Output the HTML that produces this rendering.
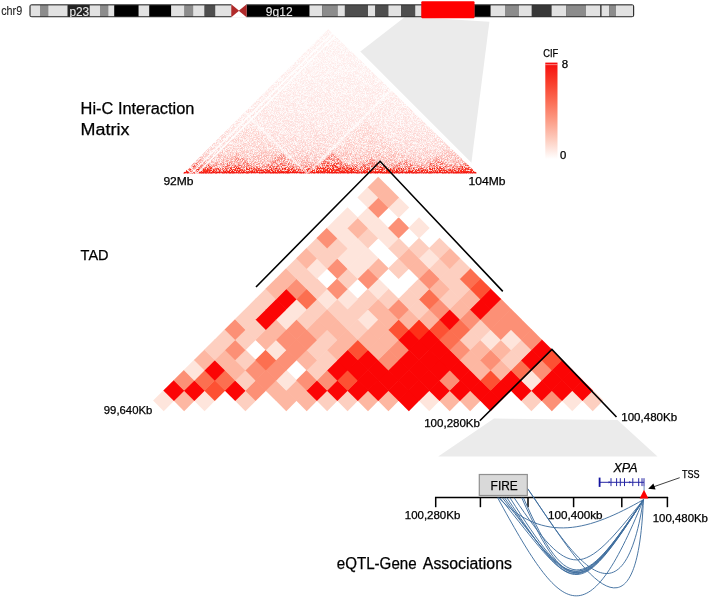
<!DOCTYPE html>
<html><head><meta charset="utf-8"><title>Hi-C FIRE figure</title>
<style>
html,body{margin:0;padding:0;background:#fff;}
svg{display:block;font-family:"Liberation Sans",sans-serif;}
</style></head>
<body>
<svg width="709" height="598" viewBox="0 0 709 598">
<defs>
<linearGradient id="hg" x1="0" y1="28.8" x2="0" y2="173.5" gradientUnits="userSpaceOnUse">
<stop offset="0" stop-color="#f42414" stop-opacity="0.04"/>
<stop offset="0.308" stop-color="#f42414" stop-opacity="0.052"/>
<stop offset="0.654" stop-color="#f42414" stop-opacity="0.082"/>
<stop offset="0.827" stop-color="#f42414" stop-opacity="0.12"/>
<stop offset="0.917" stop-color="#f42414" stop-opacity="0.20"/>
<stop offset="0.958" stop-color="#f42414" stop-opacity="0.36"/>
<stop offset="0.982" stop-color="#f42414" stop-opacity="0.7"/>
<stop offset="1" stop-color="#f42414" stop-opacity="1"/>
</linearGradient>
<linearGradient id="cb" x1="0" y1="0" x2="0" y2="1">
<stop offset="0" stop-color="#f60c0c"/>
<stop offset="0.2" stop-color="#f93c2a"/>
<stop offset="0.4" stop-color="#fb6c54"/>
<stop offset="0.6" stop-color="#fc9c86"/>
<stop offset="0.8" stop-color="#fdcdbf"/>
<stop offset="1" stop-color="#ffffff"/>
</linearGradient>
<filter id="stip" x="0" y="0" width="1" height="1" color-interpolation-filters="sRGB">
<feTurbulence type="fractalNoise" baseFrequency="1.4" numOctaves="1" seed="11" result="n"/>
<feColorMatrix in="n" type="matrix" values="0 0 0 0 1  0 0 0 0 1  0 0 0 0 1  0 0 0 3.2 -1.1" result="na"/>
<feComposite in="SourceGraphic" in2="na" operator="arithmetic" k1="1.7" k2="0.15" k3="0" k4="0"/>
</filter>
<clipPath id="iclip"><rect x="29" y="4.3" width="606" height="13"/></clipPath>
<clipPath id="hclip"><polygon points="182.8,173.5 328.2,28.8 477.2,173.5"/></clipPath>
</defs>
<rect width="709" height="598" fill="#ffffff"/>
<!-- grey zoom wedges -->
<polygon points="405.5,16.5 489.4,21.7 470,173.5 203,173.5" fill="#ebebeb"/>
<polygon points="494,418.6 617.5,420 657.5,456.6 438.2,456.6" fill="#ebebeb"/>
<!-- ideogram -->
<rect x="29.4" y="4.300000000000001" width="604.8000000000001" height="13.0" rx="2.5" fill="#303030"/>
<rect x="30.6" y="5.4" width="9.40" height="10.80" fill="#e2e2e2"/>
<rect x="40" y="5.4" width="8.20" height="10.80" fill="#8c8c8c"/>
<rect x="48.2" y="5.4" width="19.50" height="10.80" fill="#e2e2e2"/>
<rect x="67.7" y="5.4" width="22.00" height="10.80" fill="#222222"/>
<rect x="89.7" y="5.4" width="10.30" height="10.80" fill="#e2e2e2"/>
<rect x="100" y="5.4" width="8.20" height="10.80" fill="#8c8c8c"/>
<rect x="108.2" y="5.4" width="6.20" height="10.80" fill="#e2e2e2"/>
<rect x="114.4" y="5.4" width="24.20" height="10.80" fill="#000000"/>
<rect x="138.6" y="5.4" width="10.80" height="10.80" fill="#e2e2e2"/>
<rect x="149.4" y="5.4" width="21.70" height="10.80" fill="#000000"/>
<rect x="171.1" y="5.4" width="13.50" height="10.80" fill="#e2e2e2"/>
<rect x="184.6" y="5.4" width="8.50" height="10.80" fill="#8c8c8c"/>
<rect x="193.1" y="5.4" width="11.50" height="10.80" fill="#e2e2e2"/>
<rect x="204.6" y="5.4" width="10.60" height="10.80" fill="#4e4e4e"/>
<rect x="215.2" y="5.4" width="16.10" height="10.80" fill="#e2e2e2"/>
<rect x="246.5" y="5.4" width="63.00" height="10.80" fill="#000000"/>
<rect x="309.5" y="5.4" width="12.80" height="10.80" fill="#e2e2e2"/>
<rect x="322.3" y="5.4" width="15.30" height="10.80" fill="#8c8c8c"/>
<rect x="337.6" y="5.4" width="7.30" height="10.80" fill="#e2e2e2"/>
<rect x="344.9" y="5.4" width="23.10" height="10.80" fill="#4e4e4e"/>
<rect x="368" y="5.4" width="7.30" height="10.80" fill="#e2e2e2"/>
<rect x="375.3" y="5.4" width="13.10" height="10.80" fill="#4e4e4e"/>
<rect x="388.4" y="5.4" width="12.60" height="10.80" fill="#e2e2e2"/>
<rect x="401" y="5.4" width="14.20" height="10.80" fill="#4e4e4e"/>
<rect x="415.2" y="5.4" width="6.30" height="10.80" fill="#e2e2e2"/>
<rect x="421.5" y="5.4" width="53.00" height="10.80" fill="#e2e2e2"/>
<rect x="474.5" y="5.4" width="16.10" height="10.80" fill="#000000"/>
<rect x="490.6" y="5.4" width="14.40" height="10.80" fill="#e2e2e2"/>
<rect x="505" y="5.4" width="14.00" height="10.80" fill="#8c8c8c"/>
<rect x="519" y="5.4" width="12.80" height="10.80" fill="#e2e2e2"/>
<rect x="531.8" y="5.4" width="19.80" height="10.80" fill="#383838"/>
<rect x="551.6" y="5.4" width="14.80" height="10.80" fill="#e2e2e2"/>
<rect x="566.4" y="5.4" width="19.60" height="10.80" fill="#8c8c8c"/>
<rect x="586" y="5.4" width="14.00" height="10.80" fill="#e2e2e2"/>
<rect x="600" y="5.4" width="1.60" height="10.80" fill="#4e4e4e"/>
<rect x="601.6" y="5.4" width="7.80" height="10.80" fill="#e2e2e2"/>
<rect x="609.4" y="5.4" width="6.60" height="10.80" fill="#8c8c8c"/>
<rect x="616" y="5.4" width="17.00" height="10.80" fill="#e2e2e2"/>
<rect x="231.3" y="3.8000000000000003" width="15.2" height="14.0" fill="#ffffff"/>
<polygon points="231.3,4.300000000000001 239.1,10.8 231.3,17.3" fill="#b02a2a"/>
<polygon points="246.6,4.300000000000001 238.7,10.8 246.6,17.3" fill="#b02a2a"/>
<rect x="421.3" y="1.3" width="53.2" height="17" rx="1" fill="#ff0000"/>
<!-- Hi-C matrix -->
<polygon points="327,27.5 336.3,27.5 482.5,173.7 182,173.7" fill="#ffffff"/>
<g clip-path="url(#hclip)"><g filter="url(#stip)">
<polygon points="182.8,173.5 328.2,28.8 477.2,173.5" fill="url(#hg)"/>
<polygon points="186.0,173.5 201.0,158.8 216.0,173.5" fill="#f42414" fill-opacity="0.2"/>
<polygon points="216.0,173.5 237.5,152.4 259.0,173.5" fill="#f42414" fill-opacity="0.12"/>
<polygon points="259.0,173.5 281.0,151.9 303.0,173.5" fill="#f42414" fill-opacity="0.14"/>
<polygon points="311.0,173.5 332.5,152.4 354.0,173.5" fill="#f42414" fill-opacity="0.25"/>
<polygon points="354.0,173.5 371.5,156.3 389.0,173.5" fill="#f42414" fill-opacity="0.15"/>
<polygon points="389.0,173.5 404.5,158.3 420.0,173.5" fill="#f42414" fill-opacity="0.14"/>
<polygon points="420.0,173.5 437.5,156.3 455.0,173.5" fill="#f42414" fill-opacity="0.16"/>
<polygon points="455.0,173.5 466.0,162.7 477.0,173.5" fill="#f42414" fill-opacity="0.2"/>
<polygon points="198.0,173.5 250.5,121.9 303.0,173.5" fill="#f42414" fill-opacity="0.02"/>
<polygon points="311.0,173.5 365.5,119.9 420.0,173.5" fill="#f42414" fill-opacity="0.025"/>
<polygon points="420.0,173.5 448.5,145.5 477.0,173.5" fill="#f42414" fill-opacity="0.02"/>
<polygon points="184.0,173.5 191.2,166.4 198.5,173.5" fill="#f42414" fill-opacity="0.2986859182817167"/>
<polygon points="199.7,173.5 208.9,164.5 218.0,173.5" fill="#f42414" fill-opacity="0.29838377195838894"/>
<polygon points="219.4,173.5 223.1,169.9 226.8,173.5" fill="#f42414" fill-opacity="0.25449962470049686"/>
<polygon points="228.2,173.5 235.6,166.2 243.0,173.5" fill="#f42414" fill-opacity="0.32414407868009965"/>
<polygon points="243.4,173.5 249.8,167.3 256.1,173.5" fill="#f42414" fill-opacity="0.21945165321917284"/>
<polygon points="257.0,173.5 264.0,166.7 270.9,173.5" fill="#f42414" fill-opacity="0.18209827033422435"/>
<polygon points="271.5,173.5 276.7,168.4 281.8,173.5" fill="#f42414" fill-opacity="0.3266152594893683"/>
<polygon points="283.1,173.5 287.5,169.1 292.0,173.5" fill="#f42414" fill-opacity="0.30754351862899276"/>
<polygon points="292.4,173.5 299.6,166.4 306.8,173.5" fill="#f42414" fill-opacity="0.20027187720804315"/>
<polygon points="307.1,173.5 315.9,164.9 324.6,173.5" fill="#f42414" fill-opacity="0.21351302119921886"/>
<polygon points="325.2,173.5 334.6,164.3 343.9,173.5" fill="#f42414" fill-opacity="0.3195852424698883"/>
<polygon points="344.6,173.5 353.9,164.4 363.1,173.5" fill="#f42414" fill-opacity="0.2662757550193297"/>
<polygon points="364.2,173.5 369.0,168.9 373.7,173.5" fill="#f42414" fill-opacity="0.33055616017407985"/>
<polygon points="374.8,173.5 384.1,164.4 393.4,173.5" fill="#f42414" fill-opacity="0.32299866841223657"/>
<polygon points="394.1,173.5 399.8,167.9 405.4,173.5" fill="#f42414" fill-opacity="0.2065529691407593"/>
<polygon points="405.9,173.5 409.8,169.7 413.7,173.5" fill="#f42414" fill-opacity="0.228217456123114"/>
<polygon points="414.7,173.5 418.2,170.0 421.7,173.5" fill="#f42414" fill-opacity="0.2884694799276306"/>
<polygon points="422.5,173.5 427.8,168.2 433.2,173.5" fill="#f42414" fill-opacity="0.3109628919435313"/>
<polygon points="434.0,173.5 439.4,168.2 444.8,173.5" fill="#f42414" fill-opacity="0.2569949417978982"/>
<polygon points="446.0,173.5 449.8,169.7 453.7,173.5" fill="#f42414" fill-opacity="0.3360159301030777"/>
<polygon points="454.0,173.5 462.0,165.6 470.0,173.5" fill="#f42414" fill-opacity="0.31518094230210075"/>
<polygon points="470.3,173.5 473.7,170.2 477.0,173.5" fill="#f42414" fill-opacity="0.2385895161346977"/>
</g>
<rect x="182.8" y="171.9" width="294.4" height="1.6" fill="#f01010" fill-opacity="0.75"/>
<line x1="191.3" y1="173.5" x2="332.5" y2="33.0" stroke="#fff" stroke-width="1.5" stroke-opacity="0.9"/>
<line x1="191.3" y1="173.5" x2="187.0" y2="169.3" stroke="#fff" stroke-width="1.5" stroke-opacity="0.9"/>
<line x1="196.8" y1="173.5" x2="335.3" y2="35.7" stroke="#fff" stroke-width="1.5" stroke-opacity="0.9"/>
<line x1="196.8" y1="173.5" x2="189.7" y2="166.6" stroke="#fff" stroke-width="1.5" stroke-opacity="0.9"/>
<line x1="307.3" y1="173.5" x2="391.2" y2="90.0" stroke="#fff" stroke-width="2.0" stroke-opacity="0.6"/>
<line x1="307.3" y1="173.5" x2="244.3" y2="112.3" stroke="#fff" stroke-width="2.0" stroke-opacity="0.6"/>
</g>
<!-- colour bar -->
<rect x="545.3" y="62.6" width="12.2" height="96.4" fill="url(#cb)"/>
<rect x="545.3" y="64.4" width="12.2" height="0.7" fill="#ffffff" fill-opacity="0.7"/>
<!-- TAD heat map -->
<g shape-rendering="geometricPrecision">
<polygon points="153.10,400.60 163.71,390.04 174.33,400.60 163.71,411.16" fill="#fee5dc"/>
<polygon points="173.53,400.60 184.14,390.04 194.76,400.60 184.14,411.16" fill="#fdb7a2"/>
<polygon points="193.96,400.60 204.57,390.04 215.18,400.60 204.57,411.16" fill="#fee5dc"/>
<polygon points="234.81,400.60 245.43,390.04 256.04,400.60 245.43,411.16" fill="#fdcfc0"/>
<polygon points="275.67,400.60 286.28,390.04 296.90,400.60 286.28,411.16" fill="#fdb7a2"/>
<polygon points="296.10,400.60 306.71,390.04 317.32,400.60 306.71,411.16" fill="#fdb7a2"/>
<polygon points="316.52,400.60 327.14,390.04 337.75,400.60 327.14,411.16" fill="#fdcfc0"/>
<polygon points="336.95,400.60 347.57,390.04 358.18,400.60 347.57,411.16" fill="#fdcfc0"/>
<polygon points="357.38,400.60 367.99,390.04 378.61,400.60 367.99,411.16" fill="#fdb7a2"/>
<polygon points="377.81,400.60 388.42,390.04 399.04,400.60 388.42,411.16" fill="#fdb7a2"/>
<polygon points="398.24,400.60 408.85,390.04 419.46,400.60 408.85,411.16" fill="#fb0505"/>
<polygon points="418.66,400.60 429.28,390.04 439.89,400.60 429.28,411.16" fill="#fee5dc"/>
<polygon points="439.09,400.60 449.71,390.04 460.32,400.60 449.71,411.16" fill="#fdb7a2"/>
<polygon points="459.52,400.60 470.13,390.04 480.75,400.60 470.13,411.16" fill="#fdb7a2"/>
<polygon points="479.95,400.60 490.56,390.04 501.18,400.60 490.56,411.16" fill="#fb0505"/>
<polygon points="520.80,400.60 531.42,390.04 542.03,400.60 531.42,411.16" fill="#fdcfc0"/>
<polygon points="541.23,400.60 551.85,390.04 562.46,400.60 551.85,411.16" fill="#fc9076"/>
<polygon points="561.66,400.60 572.27,390.04 582.89,400.60 572.27,411.16" fill="#fee5dc"/>
<polygon points="582.09,400.60 592.70,390.04 603.32,400.60 592.70,411.16" fill="#fdcfc0"/>
<polygon points="163.31,390.44 173.93,379.88 184.54,390.44 173.93,401.00" fill="#fb0505"/>
<polygon points="183.74,390.44 194.36,379.88 204.97,390.44 194.36,401.00" fill="#fb0505"/>
<polygon points="204.17,390.44 214.78,379.88 225.40,390.44 214.78,401.00" fill="#fd5133"/>
<polygon points="224.60,390.44 235.21,379.88 245.83,390.44 235.21,401.00" fill="#fb0505"/>
<polygon points="245.03,390.44 255.64,379.88 266.25,390.44 255.64,401.00" fill="#fc9076"/>
<polygon points="265.45,390.44 276.07,379.88 286.68,390.44 276.07,401.00" fill="#fdb7a2"/>
<polygon points="285.88,390.44 296.50,379.88 307.11,390.44 296.50,401.00" fill="#fdb7a2"/>
<polygon points="306.31,390.44 316.92,379.88 327.54,390.44 316.92,401.00" fill="#fb0505"/>
<polygon points="326.74,390.44 337.35,379.88 347.97,390.44 337.35,401.00" fill="#fb0505"/>
<polygon points="347.17,390.44 357.78,379.88 368.39,390.44 357.78,401.00" fill="#fb0505"/>
<polygon points="367.59,390.44 378.21,379.88 388.82,390.44 378.21,401.00" fill="#fb0505"/>
<polygon points="388.02,390.44 398.64,379.88 409.25,390.44 398.64,401.00" fill="#fb0505"/>
<polygon points="408.45,390.44 419.06,379.88 429.68,390.44 419.06,401.00" fill="#fb0505"/>
<polygon points="428.88,390.44 439.49,379.88 450.11,390.44 439.49,401.00" fill="#fb0505"/>
<polygon points="449.31,390.44 459.92,379.88 470.53,390.44 459.92,401.00" fill="#fb0505"/>
<polygon points="469.73,390.44 480.35,379.88 490.96,390.44 480.35,401.00" fill="#fb0505"/>
<polygon points="490.16,390.44 500.78,379.88 511.39,390.44 500.78,401.00" fill="#fb0505"/>
<polygon points="510.59,390.44 521.20,379.88 531.82,390.44 521.20,401.00" fill="#fb0505"/>
<polygon points="531.02,390.44 541.63,379.88 552.25,390.44 541.63,401.00" fill="#fb0505"/>
<polygon points="551.45,390.44 562.06,379.88 572.67,390.44 562.06,401.00" fill="#fb0505"/>
<polygon points="571.87,390.44 582.49,379.88 593.10,390.44 582.49,401.00" fill="#fb0505"/>
<polygon points="173.53,380.28 184.14,369.72 194.76,380.28 184.14,390.84" fill="#fc9076"/>
<polygon points="193.96,380.28 204.57,369.72 215.18,380.28 204.57,390.84" fill="#fc6f50"/>
<polygon points="214.38,380.28 225.00,369.72 235.61,380.28 225.00,390.84" fill="#fc6f50"/>
<polygon points="234.81,380.28 245.43,369.72 256.04,380.28 245.43,390.84" fill="#fdcfc0"/>
<polygon points="255.24,380.28 265.85,369.72 276.47,380.28 265.85,390.84" fill="#fc9076"/>
<polygon points="275.67,380.28 286.28,369.72 296.90,380.28 286.28,390.84" fill="#fee5dc"/>
<polygon points="296.10,380.28 306.71,369.72 317.32,380.28 306.71,390.84" fill="#fc9076"/>
<polygon points="316.52,380.28 327.14,369.72 337.75,380.28 327.14,390.84" fill="#fc9076"/>
<polygon points="336.95,380.28 347.57,369.72 358.18,380.28 347.57,390.84" fill="#fd5133"/>
<polygon points="357.38,380.28 367.99,369.72 378.61,380.28 367.99,390.84" fill="#fb0505"/>
<polygon points="377.81,380.28 388.42,369.72 399.04,380.28 388.42,390.84" fill="#fb0505"/>
<polygon points="398.24,380.28 408.85,369.72 419.46,380.28 408.85,390.84" fill="#fb0505"/>
<polygon points="418.66,380.28 429.28,369.72 439.89,380.28 429.28,390.84" fill="#fb0505"/>
<polygon points="439.09,380.28 449.71,369.72 460.32,380.28 449.71,390.84" fill="#fc9076"/>
<polygon points="459.52,380.28 470.13,369.72 480.75,380.28 470.13,390.84" fill="#fb0505"/>
<polygon points="479.95,380.28 490.56,369.72 501.18,380.28 490.56,390.84" fill="#fd5133"/>
<polygon points="500.38,380.28 510.99,369.72 521.60,380.28 510.99,390.84" fill="#fb0505"/>
<polygon points="520.80,380.28 531.42,369.72 542.03,380.28 531.42,390.84" fill="#fee5dc"/>
<polygon points="541.23,380.28 551.85,369.72 562.46,380.28 551.85,390.84" fill="#fb0505"/>
<polygon points="561.66,380.28 572.27,369.72 582.89,380.28 572.27,390.84" fill="#fb0505"/>
<polygon points="183.74,370.12 194.36,359.56 204.97,370.12 194.36,380.68" fill="#fee5dc"/>
<polygon points="204.17,370.12 214.78,359.56 225.40,370.12 214.78,380.68" fill="#fb0505"/>
<polygon points="224.60,370.12 235.21,359.56 245.83,370.12 235.21,380.68" fill="#fdb7a2"/>
<polygon points="245.03,370.12 255.64,359.56 266.25,370.12 255.64,380.68" fill="#fc9076"/>
<polygon points="265.45,370.12 276.07,359.56 286.68,370.12 276.07,380.68" fill="#fc9076"/>
<polygon points="306.31,370.12 316.92,359.56 327.54,370.12 316.92,380.68" fill="#fdcfc0"/>
<polygon points="326.74,370.12 337.35,359.56 347.97,370.12 337.35,380.68" fill="#fb0505"/>
<polygon points="347.17,370.12 357.78,359.56 368.39,370.12 357.78,380.68" fill="#fb0505"/>
<polygon points="367.59,370.12 378.21,359.56 388.82,370.12 378.21,380.68" fill="#fb0505"/>
<polygon points="388.02,370.12 398.64,359.56 409.25,370.12 398.64,380.68" fill="#fb0505"/>
<polygon points="408.45,370.12 419.06,359.56 429.68,370.12 419.06,380.68" fill="#fb0505"/>
<polygon points="428.88,370.12 439.49,359.56 450.11,370.12 439.49,380.68" fill="#fb0505"/>
<polygon points="449.31,370.12 459.92,359.56 470.53,370.12 459.92,380.68" fill="#fb0505"/>
<polygon points="469.73,370.12 480.35,359.56 490.96,370.12 480.35,380.68" fill="#fdb7a2"/>
<polygon points="490.16,370.12 500.78,359.56 511.39,370.12 500.78,380.68" fill="#fdb7a2"/>
<polygon points="510.59,370.12 521.20,359.56 531.82,370.12 521.20,380.68" fill="#fc6f50"/>
<polygon points="531.02,370.12 541.63,359.56 552.25,370.12 541.63,380.68" fill="#fc9076"/>
<polygon points="551.45,370.12 562.06,359.56 572.67,370.12 562.06,380.68" fill="#fb0505"/>
<polygon points="193.96,359.96 204.57,349.40 215.18,359.96 204.57,370.52" fill="#fdb7a2"/>
<polygon points="214.38,359.96 225.00,349.40 235.61,359.96 225.00,370.52" fill="#fdb7a2"/>
<polygon points="234.81,359.96 245.43,349.40 256.04,359.96 245.43,370.52" fill="#fdcfc0"/>
<polygon points="255.24,359.96 265.85,349.40 276.47,359.96 265.85,370.52" fill="#fc6f50"/>
<polygon points="275.67,359.96 286.28,349.40 296.90,359.96 286.28,370.52" fill="#fc9076"/>
<polygon points="296.10,359.96 306.71,349.40 317.32,359.96 306.71,370.52" fill="#fdb7a2"/>
<polygon points="316.52,359.96 327.14,349.40 337.75,359.96 327.14,370.52" fill="#fdcfc0"/>
<polygon points="336.95,359.96 347.57,349.40 358.18,359.96 347.57,370.52" fill="#fb0505"/>
<polygon points="357.38,359.96 367.99,349.40 378.61,359.96 367.99,370.52" fill="#fb0505"/>
<polygon points="377.81,359.96 388.42,349.40 399.04,359.96 388.42,370.52" fill="#fc9076"/>
<polygon points="398.24,359.96 408.85,349.40 419.46,359.96 408.85,370.52" fill="#fb0505"/>
<polygon points="418.66,359.96 429.28,349.40 439.89,359.96 429.28,370.52" fill="#fb0505"/>
<polygon points="439.09,359.96 449.71,349.40 460.32,359.96 449.71,370.52" fill="#fb0505"/>
<polygon points="459.52,359.96 470.13,349.40 480.75,359.96 470.13,370.52" fill="#fdb7a2"/>
<polygon points="479.95,359.96 490.56,349.40 501.18,359.96 490.56,370.52" fill="#fc9076"/>
<polygon points="500.38,359.96 510.99,349.40 521.60,359.96 510.99,370.52" fill="#fdcfc0"/>
<polygon points="520.80,359.96 531.42,349.40 542.03,359.96 531.42,370.52" fill="#fb0505"/>
<polygon points="541.23,359.96 551.85,349.40 562.46,359.96 551.85,370.52" fill="#fd5133"/>
<polygon points="204.17,349.80 214.78,339.24 225.40,349.80 214.78,360.36" fill="#fdcfc0"/>
<polygon points="224.60,349.80 235.21,339.24 245.83,349.80 235.21,360.36" fill="#fc9076"/>
<polygon points="265.45,349.80 276.07,339.24 286.68,349.80 276.07,360.36" fill="#fee5dc"/>
<polygon points="285.88,349.80 296.50,339.24 307.11,349.80 296.50,360.36" fill="#fc9076"/>
<polygon points="306.31,349.80 316.92,339.24 327.54,349.80 316.92,360.36" fill="#fdcfc0"/>
<polygon points="326.74,349.80 337.35,339.24 347.97,349.80 337.35,360.36" fill="#fdb7a2"/>
<polygon points="347.17,349.80 357.78,339.24 368.39,349.80 357.78,360.36" fill="#fd5133"/>
<polygon points="367.59,349.80 378.21,339.24 388.82,349.80 378.21,360.36" fill="#fdb7a2"/>
<polygon points="388.02,349.80 398.64,339.24 409.25,349.80 398.64,360.36" fill="#fc9076"/>
<polygon points="408.45,349.80 419.06,339.24 429.68,349.80 419.06,360.36" fill="#fb0505"/>
<polygon points="428.88,349.80 439.49,339.24 450.11,349.80 439.49,360.36" fill="#fb0505"/>
<polygon points="449.31,349.80 459.92,339.24 470.53,349.80 459.92,360.36" fill="#fc9076"/>
<polygon points="469.73,349.80 480.35,339.24 490.96,349.80 480.35,360.36" fill="#fdb7a2"/>
<polygon points="490.16,349.80 500.78,339.24 511.39,349.80 500.78,360.36" fill="#fdb7a2"/>
<polygon points="510.59,349.80 521.20,339.24 531.82,349.80 521.20,360.36" fill="#fdcfc0"/>
<polygon points="531.02,349.80 541.63,339.24 552.25,349.80 541.63,360.36" fill="#fb0505"/>
<polygon points="214.38,339.64 225.00,329.08 235.61,339.64 225.00,350.20" fill="#fdcfc0"/>
<polygon points="234.81,339.64 245.43,329.08 256.04,339.64 245.43,350.20" fill="#fdcfc0"/>
<polygon points="255.24,339.64 265.85,329.08 276.47,339.64 265.85,350.20" fill="#fdb7a2"/>
<polygon points="275.67,339.64 286.28,329.08 296.90,339.64 286.28,350.20" fill="#fc9076"/>
<polygon points="296.10,339.64 306.71,329.08 317.32,339.64 306.71,350.20" fill="#fc9076"/>
<polygon points="316.52,339.64 327.14,329.08 337.75,339.64 327.14,350.20" fill="#fdcfc0"/>
<polygon points="336.95,339.64 347.57,329.08 358.18,339.64 347.57,350.20" fill="#fdb7a2"/>
<polygon points="357.38,339.64 367.99,329.08 378.61,339.64 367.99,350.20" fill="#fdb7a2"/>
<polygon points="377.81,339.64 388.42,329.08 399.04,339.64 388.42,350.20" fill="#fdb7a2"/>
<polygon points="398.24,339.64 408.85,329.08 419.46,339.64 408.85,350.20" fill="#fb0505"/>
<polygon points="418.66,339.64 429.28,329.08 439.89,339.64 429.28,350.20" fill="#fb0505"/>
<polygon points="439.09,339.64 449.71,329.08 460.32,339.64 449.71,350.20" fill="#fc6f50"/>
<polygon points="459.52,339.64 470.13,329.08 480.75,339.64 470.13,350.20" fill="#fdcfc0"/>
<polygon points="479.95,339.64 490.56,329.08 501.18,339.64 490.56,350.20" fill="#fee5dc"/>
<polygon points="500.38,339.64 510.99,329.08 521.60,339.64 510.99,350.20" fill="#fee5dc"/>
<polygon points="520.80,339.64 531.42,329.08 542.03,339.64 531.42,350.20" fill="#fc9076"/>
<polygon points="224.60,329.48 235.21,318.92 245.83,329.48 235.21,340.04" fill="#fc9076"/>
<polygon points="245.03,329.48 255.64,318.92 266.25,329.48 255.64,340.04" fill="#fdcfc0"/>
<polygon points="265.45,329.48 276.07,318.92 286.68,329.48 276.07,340.04" fill="#fdb7a2"/>
<polygon points="285.88,329.48 296.50,318.92 307.11,329.48 296.50,340.04" fill="#fc9076"/>
<polygon points="306.31,329.48 316.92,318.92 327.54,329.48 316.92,340.04" fill="#fdb7a2"/>
<polygon points="326.74,329.48 337.35,318.92 347.97,329.48 337.35,340.04" fill="#fdb7a2"/>
<polygon points="347.17,329.48 357.78,318.92 368.39,329.48 357.78,340.04" fill="#fdcfc0"/>
<polygon points="367.59,329.48 378.21,318.92 388.82,329.48 378.21,340.04" fill="#fdb7a2"/>
<polygon points="388.02,329.48 398.64,318.92 409.25,329.48 398.64,340.04" fill="#fd5133"/>
<polygon points="408.45,329.48 419.06,318.92 429.68,329.48 419.06,340.04" fill="#fe3018"/>
<polygon points="428.88,329.48 439.49,318.92 450.11,329.48 439.49,340.04" fill="#fd5133"/>
<polygon points="449.31,329.48 459.92,318.92 470.53,329.48 459.92,340.04" fill="#fc6f50"/>
<polygon points="469.73,329.48 480.35,318.92 490.96,329.48 480.35,340.04" fill="#fdcfc0"/>
<polygon points="490.16,329.48 500.78,318.92 511.39,329.48 500.78,340.04" fill="#fc9076"/>
<polygon points="510.59,329.48 521.20,318.92 531.82,329.48 521.20,340.04" fill="#fc9076"/>
<polygon points="234.81,319.32 245.43,308.76 256.04,319.32 245.43,329.88" fill="#fdcfc0"/>
<polygon points="255.24,319.32 265.85,308.76 276.47,319.32 265.85,329.88" fill="#fb0505"/>
<polygon points="275.67,319.32 286.28,308.76 296.90,319.32 286.28,329.88" fill="#fee5dc"/>
<polygon points="296.10,319.32 306.71,308.76 317.32,319.32 306.71,329.88" fill="#fdcfc0"/>
<polygon points="316.52,319.32 327.14,308.76 337.75,319.32 327.14,329.88" fill="#fdb7a2"/>
<polygon points="336.95,319.32 347.57,308.76 358.18,319.32 347.57,329.88" fill="#fdcfc0"/>
<polygon points="357.38,319.32 367.99,308.76 378.61,319.32 367.99,329.88" fill="#fee5dc"/>
<polygon points="377.81,319.32 388.42,308.76 399.04,319.32 388.42,329.88" fill="#fdb7a2"/>
<polygon points="398.24,319.32 408.85,308.76 419.46,319.32 408.85,329.88" fill="#fdb7a2"/>
<polygon points="418.66,319.32 429.28,308.76 439.89,319.32 429.28,329.88" fill="#fdb7a2"/>
<polygon points="439.09,319.32 449.71,308.76 460.32,319.32 449.71,329.88" fill="#fb0505"/>
<polygon points="459.52,319.32 470.13,308.76 480.75,319.32 470.13,329.88" fill="#fc9076"/>
<polygon points="479.95,319.32 490.56,308.76 501.18,319.32 490.56,329.88" fill="#fc9076"/>
<polygon points="500.38,319.32 510.99,308.76 521.60,319.32 510.99,329.88" fill="#fc9076"/>
<polygon points="245.03,309.16 255.64,298.60 266.25,309.16 255.64,319.72" fill="#fdcfc0"/>
<polygon points="265.45,309.16 276.07,298.60 286.68,309.16 276.07,319.72" fill="#fb0505"/>
<polygon points="285.88,309.16 296.50,298.60 307.11,309.16 296.50,319.72" fill="#fee5dc"/>
<polygon points="306.31,309.16 316.92,298.60 327.54,309.16 316.92,319.72" fill="#fdcfc0"/>
<polygon points="326.74,309.16 337.35,298.60 347.97,309.16 337.35,319.72" fill="#fdcfc0"/>
<polygon points="347.17,309.16 357.78,298.60 368.39,309.16 357.78,319.72" fill="#fdcfc0"/>
<polygon points="367.59,309.16 378.21,298.60 388.82,309.16 378.21,319.72" fill="#fdb7a2"/>
<polygon points="388.02,309.16 398.64,298.60 409.25,309.16 398.64,319.72" fill="#fc9076"/>
<polygon points="408.45,309.16 419.06,298.60 429.68,309.16 419.06,319.72" fill="#fdcfc0"/>
<polygon points="428.88,309.16 439.49,298.60 450.11,309.16 439.49,319.72" fill="#fc9076"/>
<polygon points="449.31,309.16 459.92,298.60 470.53,309.16 459.92,319.72" fill="#fdb7a2"/>
<polygon points="469.73,309.16 480.35,298.60 490.96,309.16 480.35,319.72" fill="#fb0505"/>
<polygon points="490.16,309.16 500.78,298.60 511.39,309.16 500.78,319.72" fill="#fc9076"/>
<polygon points="255.24,299.00 265.85,288.44 276.47,299.00 265.85,309.56" fill="#fdcfc0"/>
<polygon points="275.67,299.00 286.28,288.44 296.90,299.00 286.28,309.56" fill="#fb0505"/>
<polygon points="296.10,299.00 306.71,288.44 317.32,299.00 306.71,309.56" fill="#fc6f50"/>
<polygon points="316.52,299.00 327.14,288.44 337.75,299.00 327.14,309.56" fill="#fee5dc"/>
<polygon points="336.95,299.00 347.57,288.44 358.18,299.00 347.57,309.56" fill="#fee5dc"/>
<polygon points="357.38,299.00 367.99,288.44 378.61,299.00 367.99,309.56" fill="#fdcfc0"/>
<polygon points="377.81,299.00 388.42,288.44 399.04,299.00 388.42,309.56" fill="#fdcfc0"/>
<polygon points="398.24,299.00 408.85,288.44 419.46,299.00 408.85,309.56" fill="#fdcfc0"/>
<polygon points="418.66,299.00 429.28,288.44 439.89,299.00 429.28,309.56" fill="#fc6f50"/>
<polygon points="439.09,299.00 449.71,288.44 460.32,299.00 449.71,309.56" fill="#fdcfc0"/>
<polygon points="459.52,299.00 470.13,288.44 480.75,299.00 470.13,309.56" fill="#fdb7a2"/>
<polygon points="479.95,299.00 490.56,288.44 501.18,299.00 490.56,309.56" fill="#fb0505"/>
<polygon points="265.45,288.84 276.07,278.28 286.68,288.84 276.07,299.40" fill="#fdb7a2"/>
<polygon points="285.88,288.84 296.50,278.28 307.11,288.84 296.50,299.40" fill="#fc9076"/>
<polygon points="306.31,288.84 316.92,278.28 327.54,288.84 316.92,299.40" fill="#fdcfc0"/>
<polygon points="326.74,288.84 337.35,278.28 347.97,288.84 337.35,299.40" fill="#fc9076"/>
<polygon points="367.59,288.84 378.21,278.28 388.82,288.84 378.21,299.40" fill="#fee5dc"/>
<polygon points="408.45,288.84 419.06,278.28 429.68,288.84 419.06,299.40" fill="#fdcfc0"/>
<polygon points="428.88,288.84 439.49,278.28 450.11,288.84 439.49,299.40" fill="#fdb7a2"/>
<polygon points="449.31,288.84 459.92,278.28 470.53,288.84 459.92,299.40" fill="#fdcfc0"/>
<polygon points="469.73,288.84 480.35,278.28 490.96,288.84 480.35,299.40" fill="#fd5133"/>
<polygon points="275.67,278.68 286.28,268.12 296.90,278.68 286.28,289.24" fill="#fdb7a2"/>
<polygon points="296.10,278.68 306.71,268.12 317.32,278.68 306.71,289.24" fill="#fdcfc0"/>
<polygon points="336.95,278.68 347.57,268.12 358.18,278.68 347.57,289.24" fill="#fdcfc0"/>
<polygon points="357.38,278.68 367.99,268.12 378.61,278.68 367.99,289.24" fill="#fc9076"/>
<polygon points="418.66,278.68 429.28,268.12 439.89,278.68 429.28,289.24" fill="#fc9076"/>
<polygon points="439.09,278.68 449.71,268.12 460.32,278.68 449.71,289.24" fill="#fdcfc0"/>
<polygon points="459.52,278.68 470.13,268.12 480.75,278.68 470.13,289.24" fill="#fc6f50"/>
<polygon points="285.88,268.52 296.50,257.96 307.11,268.52 296.50,279.08" fill="#fdcfc0"/>
<polygon points="306.31,268.52 316.92,257.96 327.54,268.52 316.92,279.08" fill="#fee5dc"/>
<polygon points="326.74,268.52 337.35,257.96 347.97,268.52 337.35,279.08" fill="#fc9076"/>
<polygon points="347.17,268.52 357.78,257.96 368.39,268.52 357.78,279.08" fill="#fee5dc"/>
<polygon points="367.59,268.52 378.21,257.96 388.82,268.52 378.21,279.08" fill="#fdb7a2"/>
<polygon points="388.02,268.52 398.64,257.96 409.25,268.52 398.64,279.08" fill="#fdcfc0"/>
<polygon points="408.45,268.52 419.06,257.96 429.68,268.52 419.06,279.08" fill="#fdb7a2"/>
<polygon points="428.88,268.52 439.49,257.96 450.11,268.52 439.49,279.08" fill="#fdcfc0"/>
<polygon points="449.31,268.52 459.92,257.96 470.53,268.52 459.92,279.08" fill="#fdcfc0"/>
<polygon points="296.10,258.36 306.71,247.80 317.32,258.36 306.71,268.92" fill="#fdb7a2"/>
<polygon points="316.52,258.36 327.14,247.80 337.75,258.36 327.14,268.92" fill="#fdcfc0"/>
<polygon points="336.95,258.36 347.57,247.80 358.18,258.36 347.57,268.92" fill="#fee5dc"/>
<polygon points="357.38,258.36 367.99,247.80 378.61,258.36 367.99,268.92" fill="#fee5dc"/>
<polygon points="398.24,258.36 408.85,247.80 419.46,258.36 408.85,268.92" fill="#fdb7a2"/>
<polygon points="418.66,258.36 429.28,247.80 439.89,258.36 429.28,268.92" fill="#fee5dc"/>
<polygon points="439.09,258.36 449.71,247.80 460.32,258.36 449.71,268.92" fill="#fdb7a2"/>
<polygon points="306.31,248.20 316.92,237.64 327.54,248.20 316.92,258.76" fill="#fdcfc0"/>
<polygon points="326.74,248.20 337.35,237.64 347.97,248.20 337.35,258.76" fill="#fdcfc0"/>
<polygon points="347.17,248.20 357.78,237.64 368.39,248.20 357.78,258.76" fill="#fee5dc"/>
<polygon points="388.02,248.20 398.64,237.64 409.25,248.20 398.64,258.76" fill="#fdcfc0"/>
<polygon points="408.45,248.20 419.06,237.64 429.68,248.20 419.06,258.76" fill="#fdcfc0"/>
<polygon points="428.88,248.20 439.49,237.64 450.11,248.20 439.49,258.76" fill="#fdcfc0"/>
<polygon points="316.52,238.04 327.14,227.48 337.75,238.04 327.14,248.60" fill="#fc9076"/>
<polygon points="336.95,238.04 347.57,227.48 358.18,238.04 347.57,248.60" fill="#fee5dc"/>
<polygon points="357.38,238.04 367.99,227.48 378.61,238.04 367.99,248.60" fill="#fdcfc0"/>
<polygon points="377.81,238.04 388.42,227.48 399.04,238.04 388.42,248.60" fill="#fee5dc"/>
<polygon points="326.74,227.88 337.35,217.32 347.97,227.88 337.35,238.44" fill="#fee5dc"/>
<polygon points="347.17,227.88 357.78,217.32 368.39,227.88 357.78,238.44" fill="#fdb7a2"/>
<polygon points="367.59,227.88 378.21,217.32 388.82,227.88 378.21,238.44" fill="#fee5dc"/>
<polygon points="388.02,227.88 398.64,217.32 409.25,227.88 398.64,238.44" fill="#fc9076"/>
<polygon points="408.45,227.88 419.06,217.32 429.68,227.88 419.06,238.44" fill="#fee5dc"/>
<polygon points="336.95,217.72 347.57,207.16 358.18,217.72 347.57,228.28" fill="#fee5dc"/>
<polygon points="357.38,217.72 367.99,207.16 378.61,217.72 367.99,228.28" fill="#fee5dc"/>
<polygon points="367.59,207.56 378.21,197.00 388.82,207.56 378.21,218.12" fill="#fc9076"/>
<polygon points="388.02,207.56 398.64,197.00 409.25,207.56 398.64,218.12" fill="#fee5dc"/>
<polygon points="357.38,197.40 367.99,186.84 378.61,197.40 367.99,207.96" fill="#fee5dc"/>
<polygon points="377.81,197.40 388.42,186.84 399.04,197.40 388.42,207.96" fill="#fdb7a2"/>
<polygon points="367.59,187.24 378.21,176.68 388.82,187.24 378.21,197.80" fill="#fdb7a2"/>
</g>

<!-- TAD outline lines -->
<g stroke="#000" stroke-width="1.6" fill="none" stroke-linecap="butt">
<polyline points="256,287 380.1,161.3 502.8,291.4"/>
<polyline points="479.8,420.7 551.9,349.5 616.5,417"/>
</g>
<!-- axis -->
<g stroke="#000" stroke-width="1.5" fill="none">
<line x1="435" y1="497.6" x2="668.1" y2="497.6"/>
<line x1="435.7" y1="497" x2="435.7" y2="507.2"/>
<line x1="480.4" y1="497" x2="480.4" y2="507.2"/>
<line x1="528" y1="497" x2="528" y2="507.2"/>
<line x1="573.6" y1="497" x2="573.6" y2="507.2"/>
<line x1="621.8" y1="497" x2="621.8" y2="507.2"/>
<line x1="667.4" y1="497" x2="667.4" y2="507.2"/>
</g>
<!-- eQTL arcs -->
<g stroke="#41709f" stroke-width="0.95" fill="none">
<path d="M497.6,497.7 C560.4,612.3 585.3,643.1 643.4,499.7"/>
<path d="M527.4,488.3 C572.8,553.0 636.4,669.7 643.4,499.7"/>
<path d="M498.5,497.7 C544.2,544.6 589.5,530.2 643.4,499.7"/>
<path d="M527.2,488.0 C568.0,548.0 622.0,640.0 643.4,499.7"/>
<path d="M499.7,497.7 C573.0,587.7 572.8,609.3 643.4,499.7"/>
<path d="M502.3,497.7 C572.7,586.6 574.3,603.6 643.4,499.7"/>
<path d="M504.4,497.7 C572.3,590.4 575.6,603.8 643.4,499.7"/>
<path d="M506.9,497.7 C572.0,595.2 577.0,604.3 643.4,499.7"/>
<path d="M509.9,497.7 C571.5,593.8 578.7,597.6 643.4,499.7"/>
<path d="M514.1,497.7 C570.9,582.0 581.2,578.6 643.4,499.7"/>
<path d="M521.7,497.7 C569.7,605.8 585.6,589.2 643.4,499.7"/>
<path d="M523.4,497.7 C569.5,603.2 586.6,583.7 643.4,499.7"/>
</g>
<!-- FIRE box -->
<rect x="479.3" y="474.5" width="48" height="21" fill="#d9d9d9" stroke="#909090" stroke-width="1.2"/>
<!-- gene -->
<line x1="599.3" y1="482.3" x2="644" y2="482.3" stroke="#2626a4" stroke-width="1"/>
<line x1="599.6" y1="477.6" x2="599.6" y2="486.9" stroke="#1414a0" stroke-width="1.8"/>
<line x1="611.0" y1="478.2" x2="611.0" y2="486.1" stroke="#2626a4" stroke-width="1"/>
<line x1="616.6" y1="478.2" x2="616.6" y2="486.1" stroke="#2626a4" stroke-width="1"/>
<line x1="620.3" y1="478.2" x2="620.3" y2="486.1" stroke="#2626a4" stroke-width="1"/>
<line x1="624.5" y1="478.2" x2="624.5" y2="486.1" stroke="#2626a4" stroke-width="1"/>
<line x1="632.8" y1="478.2" x2="632.8" y2="486.1" stroke="#2626a4" stroke-width="1"/>
<line x1="638.7" y1="478.2" x2="638.7" y2="486.1" stroke="#2626a4" stroke-width="1"/>
<line x1="642.0" y1="478.2" x2="642.0" y2="486.1" stroke="#2626a4" stroke-width="1"/>
<line x1="644.0" y1="478.2" x2="644.0" y2="486.1" stroke="#2626a4" stroke-width="1"/>
<polygon points="608.6,481 610.6,482.3 608.6,483.6" fill="#2626a4"/>
<polygon points="629.2,481 631.2,482.3 629.2,483.6" fill="#2626a4"/>
<line x1="644.1" y1="486" x2="644.1" y2="490.5" stroke="#5a7fb5" stroke-width="0.9"/>
<polygon points="644,489.7 639.6,498.4 648.4,498.4" fill="#ff0000"/>
<line x1="679.7" y1="477.7" x2="653" y2="487" stroke="#111" stroke-width="0.8"/>
<polygon points="648.2,488.7 653.4,483.6 655.6,489.6" fill="#000"/>
<!-- text -->
<g>
<text x="1.2" y="14.5" font-size="12.2" textLength="21.0" lengthAdjust="spacingAndGlyphs" fill="#222" stroke="#222" stroke-width="0.1">chr9</text>
<g clip-path="url(#iclip)"><text x="69.4" y="15.7" font-size="12.4" textLength="19.8" lengthAdjust="spacingAndGlyphs" fill="#e8e8e8" stroke="#e8e8e8" stroke-width="0.1">p23</text><text x="265.8" y="15.7" font-size="12.4" textLength="26.8" lengthAdjust="spacingAndGlyphs" fill="#e8e8e8" stroke="#e8e8e8" stroke-width="0.1">9q12</text></g>
<text x="543.2" y="57.2" font-size="10.6" textLength="15.0" lengthAdjust="spacingAndGlyphs" fill="#000" stroke="#000" stroke-width="0.25">CIF</text>
<text x="561.8" y="67.8" font-size="10.6" textLength="6.4" lengthAdjust="spacingAndGlyphs" fill="#000" stroke="#000" stroke-width="0.25">8</text>
<text x="560.1" y="158.7" font-size="10.6" textLength="6.3" lengthAdjust="spacingAndGlyphs" fill="#000" stroke="#000" stroke-width="0.25">0</text>
<text x="80.6" y="113.8" font-size="15.8" textLength="113.8" lengthAdjust="spacingAndGlyphs" fill="#000" stroke="#000" stroke-width="0.25">Hi-C Interaction</text>
<text x="80.6" y="135.1" font-size="15.8" textLength="48.8" lengthAdjust="spacingAndGlyphs" fill="#000" stroke="#000" stroke-width="0.25">Matrix</text>
<text x="163.4" y="185.3" font-size="11.4" textLength="30.2" lengthAdjust="spacingAndGlyphs" fill="#000" stroke="#000" stroke-width="0.25">92Mb</text>
<text x="468.6" y="185.3" font-size="11.4" textLength="37.0" lengthAdjust="spacingAndGlyphs" fill="#000" stroke="#000" stroke-width="0.25">104Mb</text>
<text x="80.6" y="260.1" font-size="15.4" textLength="28.0" lengthAdjust="spacingAndGlyphs" fill="#000" stroke="#000" stroke-width="0.25">TAD</text>
<text x="103.8" y="413.7" font-size="11" textLength="48.5" lengthAdjust="spacingAndGlyphs" fill="#000" stroke="#000" stroke-width="0.25">99,640Kb</text>
<text x="424.2" y="426.9" font-size="10.3" textLength="55.8" lengthAdjust="spacingAndGlyphs" fill="#000" stroke="#000" stroke-width="0.25">100,280Kb</text>
<text x="621.3" y="421.1" font-size="10.3" textLength="55.8" lengthAdjust="spacingAndGlyphs" fill="#000" stroke="#000" stroke-width="0.25">100,480Kb</text>
<text x="490.6" y="490.1" font-size="13" textLength="27.2" lengthAdjust="spacingAndGlyphs" fill="#000" stroke="#000" stroke-width="0.25">FIRE</text>
<text x="613.5" y="472.4" font-size="12" textLength="24.1" lengthAdjust="spacingAndGlyphs" fill="#000" stroke="#000" stroke-width="0.25" font-style="italic">XPA</text>
<text x="681.9" y="478.4" font-size="10.8" textLength="17.6" lengthAdjust="spacingAndGlyphs" fill="#000" stroke="#000" stroke-width="0.25">TSS</text>
<text x="404.8" y="518.7" font-size="10.5" textLength="55.5" lengthAdjust="spacingAndGlyphs" fill="#000" stroke="#000" stroke-width="0.25">100,280Kb</text>
<text x="548" y="518.9" font-size="10.5" textLength="54.6" lengthAdjust="spacingAndGlyphs" fill="#000" stroke="#000" stroke-width="0.25">100,400kb</text>
<text x="652.7" y="522.1" font-size="10.5" textLength="55.3" lengthAdjust="spacingAndGlyphs" fill="#000" stroke="#000" stroke-width="0.25">100,480Kb</text>
<text x="336.8" y="569.2" font-size="15.8" textLength="79.8" lengthAdjust="spacingAndGlyphs" fill="#000" stroke="#000" stroke-width="0.25">eQTL-Gene</text>
<text x="422.8" y="569.2" font-size="15.8" textLength="89.1" lengthAdjust="spacingAndGlyphs" fill="#000" stroke="#000" stroke-width="0.25">Associations</text>
</g>
</svg>
</body></html>
